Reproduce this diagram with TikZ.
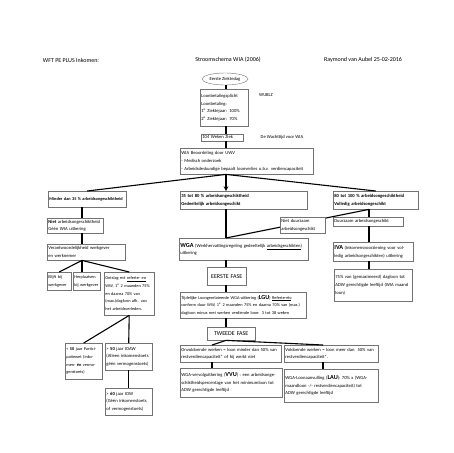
\documentclass[tikz,border=0pt]{standalone}
\usepackage{fontspec}
\setmainfont{Carlito}
\usepackage{tikz}
\usetikzlibrary{arrows,shapes.geometric,positioning}

\begin{document}
\begin{tikzpicture}[x=1pt,y=-1pt]
\tikzstyle{every node}=[font=\fontsize{4.6}{7.6}\selectfont]
\tikzstyle{vak}=[draw=black!55,line width=0.4pt,fill=white,anchor=north west,align=left,inner xsep=1.2pt,inner ysep=1pt]
\tikzstyle{smal}=[vak,font=\fontsize{4.3}{7.6}\selectfont]
\tikzstyle{ovaal}=[ellipse,draw=black!55,line width=0.4pt,minimum width=46,minimum height=12,inner sep=0.5pt]
\tikzstyle{fase}=[vak,align=center,font=\fontsize{6}{7.6}\selectfont]
\tikzstyle{kop}=[font=\fontsize{6}{7.6}\selectfont]
\tikzstyle{lijn}=[line width=1.1pt]
\tikzstyle{pijl}=[line width=1.1pt,-stealth]
\useasboundingbox (0,0) rectangle (453,453);
\coordinate (as) at (82,0);
\coordinate (ms) at (226,0);
\coordinate (os) at (212,0);
\coordinate (vs) at (323,0);
\coordinate (rs) at (369,0);
\node[kop] (kop1) at (71,60) {WFT PE PLUS Inkomen:};
\node[kop] (kop2) at (228,60) {Stroomschema WIA (2006)};
\node[kop] (kop3) at (363,60) {Raymond van Aubel 25-02-2016};
\node[ovaal] (zd) at (225,79) {Eerste Ziektedag};
\node[vak,text width=45.6,minimum height=37] (loon) at (200,89) {Loonbetalingsplicht\\Loonbetaling:\\1\textsuperscript{e} Ziektejaar: 100\%\\2\textsuperscript{e} Ziektejaar: 70\%};
\node (wublz) at (266,95) {WUBLZ};
\node[vak,text width=39.6,minimum height=7,inner ysep=0.4pt] (weken) at (201,133.5) {104 Weken Ziek};
\node (wacht) at (282,137) {De Wachttijd voor WIA};
\node[vak,text width=130.6,minimum height=26] (wia) at (180,148) {WIA Beoordeling door UWV\\- Medisch onderzoek\\- Arbeidsdeskundige bepaalt loonverlies o.b.v. verdiencapaciteit};
\node[smal,text width=75.6,minimum height=16] (minder) at (48,191) {\textbf{Minder dan 35 \% arbeidsongeschiktheid}};
\node[vak,text width=124.6,minimum height=18] (midden) at (180,191) {\textbf{35 tot 80 \% arbeidsongeschiktheid}\\\textbf{Gedeeltelijk arbeidsongeschikt}};
\node[vak,text width=82.6,minimum height=18] (rechts) at (333,191) {\textbf{80 tot 100 \% arbeidsongeschiktheid}\\\textbf{Volledig arbeidsongeschikt}};
\node[vak,text width=53.6,minimum height=15] (niet) at (47,218) {\textbf{Niet} arbeidsongeschiktheid\\Géén WIA uitkering};
\node[vak,text width=75.6,minimum height=16] (verantw) at (47,244) {Verantwoordelijkheid werkgever\\en werknemer};
\node[smal,text width=21.6,minimum height=18] (blijft) at (47,272) {Blijft bij\\werkgever};
\node[smal,text width=24.6,minimum height=18] (herpl) at (73,272) {Herplaatsen\\bij werkgever};
\node[smal,text width=47.6,minimum height=43] (ontslag) at (104,272) {Ontslag evt \underline{referte- en}\\WW, 1\textsuperscript{e} 2 maanden 75\%\\en daarna 70\% van\\(max.)dagloon afh. van\\het arbeidsverleden.};
\node[smal,text width=34.6,minimum height=36] (p50) at (65,343) {< \textbf{50} jaar Partici-\\patiewet (inko-\\men- \textbf{én} vermo-\\genstoets)};
\node[vak,text width=44.6,minimum height=27] (ioaw) at (105,343) {> \textbf{50} jaar IOAW\\(Alleen inkomenstoets\\géén vermogenstoets)};
\node[vak,text width=44.6,minimum height=27] (iow) at (105,388) {> \textbf{60} jaar IOW\\(Géén inkomenstoets\\of vermogenstoets)};
\node[vak,text width=126.6,minimum height=22] (wga) at (179,238) {{\fontsize{6.2}{7.6}\selectfont\textbf{WGA}} (Werkhervattingsregeling gedeeltelijk \underline{arbeidsgeschikten})\\uitkering};
\node[fase,text width=36.6,minimum height=18] (eerste) at (207,267) {EERSTE FASE};
\node[smal,text width=123.6,minimum height=26] (lgu) at (180,292) {Tijdelijke Loongerelateerde WGA-uitkering ({\fontsize{6.2}{7.6}\selectfont\textbf{LGU}}) \underline{Referte-eis}:\\conform duur WW, 1\textsuperscript{e} 2 maanden 75\% en daarna 70\% van (max.)\\dagloon minus met werken verdiende loon: 3 tot 38 weken};
\node[fase,text width=45.6,minimum height=13] (tweede) at (207,327) {TWEEDE FASE};
\node[vak,text width=98.6,minimum height=17] (onvold) at (180,345) {Onvoldoende werken = loon minder dan 50\% van\\restverdiencapaciteit* of hij werkt niet};
\node[vak,text width=91.6,minimum height=17] (vold) at (284,345) {Voldoende werken = loon meer dan~ 50\% van\\restverdiencapaciteit*.};
\node[vak,text width=99.6,minimum height=29] (vvu) at (180,368) {WGA-vervolguitkering ({\fontsize{6.2}{7.6}\selectfont\textbf{VVU}}) : een arbeidsonge-\\schiktheidspercentage van het minimumloon tot\\ADW gerechtigde leeftijd};
\node[vak,text width=91.6,minimum height=33] (lau) at (284,369) {WGA-Loonaanvulling ({\fontsize{6.2}{7.6}\selectfont\textbf{LAU}}): 70\% x (WGA-\\maandloon -/- restverdiencapaciteit) tot\\ADW gerechtigde leeftijd};
\node[vak,text width=67.6,minimum height=9,inner ysep=0.4pt] (duur) at (333,217) {Duurzaam arbeidsongeschikt};
\node[vak,text width=77.6,minimum height=19] (iva) at (333,242) {{\fontsize{6.2}{7.6}\selectfont\textbf{IVA}} (Inkomensvoorziening voor vol-\\ledig arbeidsongeschikten) uitkering};
\node[vak,text width=75.6,minimum height=32] (iva75) at (334,269) {75\% van (gemaximeerd) dagloon tot\\ADW gerechtigde leeftijd (WIA maand\\loon)};
\draw[lijn] (zd.south -| ms) -- (loon.north -| ms);
\draw[lijn] (loon.south -| ms) -- (weken.north -| ms);
\draw[lijn] (weken.south -| ms) -- (wia.north -| ms);
\draw[pijl] (wia.south -| ms) -- (midden.north -| ms);
\draw[lijn] (wia.south -| ms) -- (minder.north);
\draw[lijn] (wia.south -| ms) -- (rechts.north);
\draw[lijn] (minder.south -| as) -- (niet.north -| as);
\draw[lijn] (niet.south -| as) -- (verantw.north -| as);
\draw[lijn] (verantw.south -| as) -- (blijft.north);
\draw[lijn] (verantw.south -| as) -- (herpl.north -| as);
\draw[lijn] (verantw.south -| as) -- (ontslag.north);
\draw[lijn] (ontslag.south) -- (p50.north);
\draw[lijn] (ontslag.south) -- (ioaw.north);
\draw[lijn] (ioaw.south) -- (iow.north);
\draw[lijn] (midden.south -| ms) -- (wga.north -| ms);
\draw[lijn] (wga.south -| ms) -- (eerste.north -| ms);
\draw[lijn] (eerste.south -| ms) -- (lgu.north -| ms);
\draw[lijn] (lgu.south -| ms) -- (tweede.north -| ms);
\draw[lijn] (tweede.south -| ms) -- (onvold.north -| os);
\draw[lijn] (tweede.south -| ms) -- (vold.north -| vs);
\draw[lijn] (onvold.south -| os) -- (vvu.north -| os);
\draw[lijn] (vold.south -| vs) -- (lau.north -| vs);
\draw[lijn] (rechts.south -| rs) -- (duur.north -| rs);
\draw[lijn] (duur.south -| rs) -- (iva.north -| rs);
\draw[lijn] (iva.south -| rs) -- (iva75.north -| rs);
\draw[lijn] (rechts.south -| rs) -- (wga.north -| ms);
\node[vak,text width=42.6,minimum height=16] (nietduur) at (280,217) {Niet duurzaam\\arbeidsongeschikt};
\end{tikzpicture}
\end{document}
